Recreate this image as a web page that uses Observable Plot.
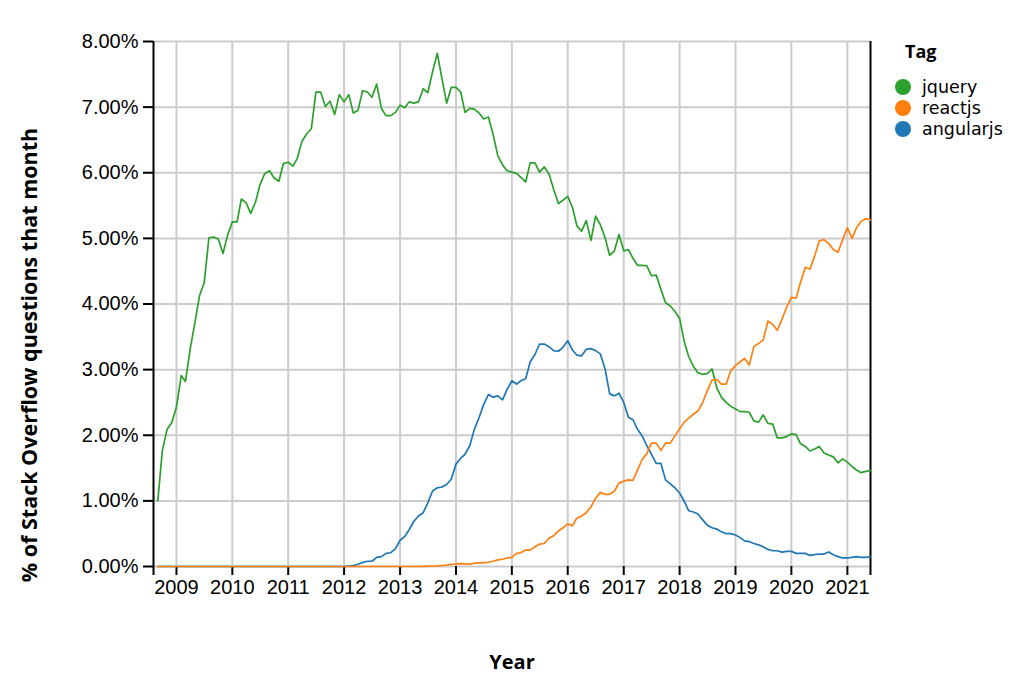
<!DOCTYPE html>
<html>
<head>
<meta charset="utf-8">
<script src="https://cdn.jsdelivr.net/npm/d3@7"></script>
<script src="https://cdn.jsdelivr.net/npm/@observablehq/plot@0.6"></script>
<style>
  html, body { margin: 0; padding: 0; background: #fff; }
  #wrap { position: relative; width: 1024px; height: 683px; }
  #legend { position: absolute; left: 895px; top: 38px; font-family: "Open Sans", sans-serif; color: #000; }
  #legend .title { font-weight: bold; font-size: 18px; margin-left: 10px; line-height: 26px; }
  #legend .row { position: absolute; left: 0; display: flex; align-items: center; white-space: nowrap; height: 20px; }
  #legend .dot { width: 16px; height: 16px; border-radius: 50%; margin-right: 11px; flex: none; }
  #legend .lab { font-family: "DejaVu Sans", sans-serif; font-size: 17.5px; line-height: 20px; }
</style>
</head>
<body>
<div id="wrap"><div id="chart"></div><div id="legend"></div></div>
<script>
// ---- data ----
const startMonth = "2008-09";   // first monthly observation
const tags = ["jquery", "reactjs", "angularjs"];
const colors = ["#2ca02c", "#ff7f0e", "#1f77b4"];
const drawOrder = ["angularjs", "jquery", "reactjs"];
const xTickYears = [2009, 2010, 2011, 2012, 2013, 2014, 2015, 2016, 2017, 2018, 2019, 2020, 2021];
const yTicks = [0, 1, 2, 3, 4, 5, 6, 7, 8];
const xDomainDates = ["2008-08-04", "2021-06-01"];

const jquery = [
  1.00, 1.77, 2.09, 2.19, 2.43, 2.91, 2.82, 3.32, 3.71, 4.13, 4.32, 5.01,
  5.02, 4.99, 4.77, 5.05, 5.25, 5.25, 5.60, 5.54, 5.38, 5.55, 5.82, 5.99,
  6.03, 5.92, 5.87, 6.14, 6.16, 6.10, 6.22, 6.48, 6.59, 6.67, 7.23, 7.23,
  7.01, 7.09, 6.89, 7.19, 7.08, 7.19, 6.91, 6.95, 7.25, 7.23, 7.15, 7.35,
  6.98, 6.87, 6.87, 6.92, 7.03, 6.99, 7.08, 7.06, 7.08, 7.28, 7.22, 7.54,
  7.82, 7.44, 7.06, 7.30, 7.30, 7.23, 6.92, 6.98, 6.97, 6.91, 6.82, 6.85,
  6.58, 6.26, 6.12, 6.03, 6.01, 5.99, 5.93, 5.86, 6.15, 6.15, 6.01, 6.09,
  5.98, 5.75, 5.53, 5.58, 5.64, 5.47, 5.19, 5.11, 5.27, 4.97, 5.34, 5.21,
  5.01, 4.74, 4.81, 5.06, 4.81, 4.83, 4.70, 4.59, 4.59, 4.58, 4.43, 4.44,
  4.22, 4.02, 3.97, 3.89, 3.78, 3.42, 3.20, 3.05, 2.95, 2.93, 2.94, 3.01,
  2.72, 2.58, 2.50, 2.44, 2.40, 2.36, 2.36, 2.35, 2.22, 2.20, 2.31, 2.18,
  2.17, 1.96, 1.96, 1.98, 2.02, 2.01, 1.87, 1.83, 1.76, 1.79, 1.83, 1.73,
  1.70, 1.67, 1.58, 1.64, 1.59, 1.52, 1.47, 1.43, 1.45, 1.46
];
const reactjs = [
  0, 0, 0, 0, 0, 0, 0, 0, 0, 0, 0, 0,
  0, 0, 0, 0, 0, 0, 0, 0, 0, 0, 0, 0,
  0, 0, 0, 0, 0, 0, 0, 0, 0, 0, 0, 0,
  0, 0, 0, 0, 0, 0, 0, 0, 0, 0, 0, 0,
  0, 0, 0, 0, 0, 0, 0, 0, 0, 0.003, 0.005, 0.008,
  0.01, 0.015, 0.02, 0.03, 0.04, 0.045, 0.04, 0.035, 0.05, 0.055, 0.06, 0.065,
  0.08, 0.10, 0.11, 0.13, 0.14, 0.20, 0.21, 0.25, 0.25, 0.30, 0.34, 0.35,
  0.43, 0.47, 0.54, 0.59, 0.65, 0.62, 0.74, 0.77, 0.82, 0.91, 1.04, 1.13,
  1.10, 1.10, 1.15, 1.27, 1.30, 1.32, 1.31, 1.47, 1.63, 1.72, 1.88, 1.88,
  1.77, 1.88, 1.88, 1.99, 2.10, 2.20, 2.26, 2.32, 2.37, 2.50, 2.68, 2.84,
  2.85, 2.78, 2.78, 2.98, 3.06, 3.12, 3.17, 3.07, 3.35, 3.40, 3.45, 3.74,
  3.69, 3.60, 3.77, 3.95, 4.10, 4.09, 4.33, 4.56, 4.53, 4.73, 4.96, 4.98,
  4.92, 4.83, 4.79, 4.98, 5.16, 5.00, 5.16, 5.26, 5.30, 5.28
];
const angularjs = [
  0, 0, 0, 0, 0, 0, 0, 0, 0, 0, 0, 0,
  0, 0, 0, 0, 0, 0, 0, 0, 0, 0, 0, 0,
  0, 0, 0, 0, 0, 0, 0, 0, 0, 0, 0, 0,
  0, 0, 0, 0, 0.003, 0.008, 0.015, 0.035, 0.06, 0.08, 0.08, 0.14,
  0.15, 0.20, 0.21, 0.27, 0.40, 0.46, 0.56, 0.69, 0.77, 0.82, 0.97, 1.15,
  1.20, 1.21, 1.25, 1.33, 1.56, 1.65, 1.71, 1.84, 2.09, 2.27, 2.47, 2.62,
  2.58, 2.60, 2.54, 2.70, 2.83, 2.78, 2.83, 2.86, 3.12, 3.23, 3.39, 3.39,
  3.35, 3.29, 3.28, 3.34, 3.44, 3.30, 3.22, 3.21, 3.31, 3.32, 3.29, 3.24,
  3.01, 2.63, 2.60, 2.64, 2.50, 2.27, 2.24, 2.09, 1.99, 1.84, 1.71, 1.57,
  1.57, 1.32, 1.26, 1.20, 1.12, 0.99, 0.85, 0.83, 0.80, 0.71, 0.63, 0.59,
  0.57, 0.53, 0.50, 0.50, 0.48, 0.44, 0.39, 0.38, 0.35, 0.33, 0.30, 0.26,
  0.24, 0.24, 0.22, 0.23, 0.23, 0.20, 0.20, 0.20, 0.17, 0.18, 0.19, 0.19,
  0.22, 0.18, 0.15, 0.13, 0.13, 0.14, 0.15, 0.14, 0.14, 0.15
];
const seriesValues = { jquery, reactjs, angularjs };

// ---- build table ----
const start = d3.utcParse("%Y-%m")(startMonth);
const rows = [];
for (const tag of drawOrder) {
  seriesValues[tag].forEach((v, i) => rows.push({ tag, date: d3.utcMonth.offset(start, i), value: v }));
}
const xTicks = xTickYears.map(y => new Date(Date.UTC(y, 0, 1)));
const xDomain = xDomainDates.map(s => d3.utcParse("%Y-%m-%d")(s));

const chart = Plot.plot({
  width: 1024,
  height: 683,
  marginLeft: 153,
  marginRight: 154,
  marginTop: 41,
  marginBottom: 117,
  style: { fontFamily: "'Liberation Sans', Arial, sans-serif", fontSize: "20px", color: "#000", background: "#fff", overflow: "visible" },
  x: { type: "utc", domain: xDomain },
  y: { domain: [0, 8] },
  color: { domain: tags, range: colors },
  marks: [
    Plot.gridX(xTicks, { stroke: "#cccccc", strokeOpacity: 1, strokeWidth: 2 }),
    Plot.gridY(yTicks, { stroke: "#cccccc", strokeOpacity: 1, strokeWidth: 2 }),
    Plot.axisX(xTicks, { tickFormat: "%Y", tickSize: 9, tickPadding: 4, label: null, strokeWidth: 2, fontSize: 20 }),
    Plot.axisY(yTicks, { tickFormat: d => d.toFixed(2) + "%", tickSize: 10, tickPadding: 5, label: null, strokeWidth: 2, fontSize: 20 }),
    Plot.ruleX(xDomain, { stroke: "#000", strokeWidth: 2, insetBottom: -9 }),
    Plot.lineY(rows, { x: "date", y: "value", stroke: "tag", z: "tag", strokeWidth: 1.7 }),
    Plot.text(["Year"], { frameAnchor: "bottom", dy: 96, fontWeight: "bold", fontSize: 20, fontFamily: "'Open Sans', sans-serif", textAnchor: "middle", lineAnchor: "middle" }),
    Plot.text(["% of Stack Overflow questions that month"], { frameAnchor: "left", rotate: -90, dx: -123, dy: 51, fontWeight: "bold", fontSize: 21.5, fontFamily: "'Open Sans', sans-serif", textAnchor: "middle", lineAnchor: "middle" })
  ]
});
document.getElementById("chart").appendChild(chart);

// ---- legend ----
const legend = document.getElementById("legend");
const t = document.createElement("div");
t.className = "title";
t.textContent = "Tag";
legend.appendChild(t);
tags.forEach((tag, i) => {
  const row = document.createElement("div");
  row.className = "row";
  row.style.top = (39 + i * 20.8) + "px";
  const dot = document.createElement("span");
  dot.className = "dot";
  dot.style.background = colors[i];
  const lab = document.createElement("span");
  lab.className = "lab";
  lab.textContent = tag;
  row.appendChild(dot);
  row.appendChild(lab);
  legend.appendChild(row);
});
</script>
</body>
</html>
